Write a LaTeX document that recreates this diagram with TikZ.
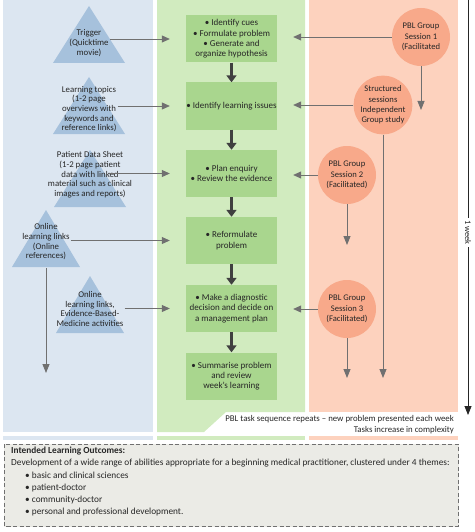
\documentclass[tikz,border=0pt]{standalone}
\usepackage{fontspec}
\setmainfont{Carlito}
\usetikzlibrary{arrows.meta}

\definecolor{bluepanel}{HTML}{DCE6F1}
\definecolor{tricol}{HTML}{A6C1DC}
\definecolor{greenpanel}{HTML}{D1EBBF}
\definecolor{taskgreen}{HTML}{A9D68E}
\definecolor{salmonpanel}{HTML}{FDD2BE}
\definecolor{sessioncol}{HTML}{F8A98A}
\definecolor{outcomefill}{HTML}{EBEBE6}
\definecolor{arrowgray}{HTML}{707070}
\definecolor{darkarrow}{HTML}{404040}
\definecolor{textcol}{HTML}{262626}

\tikzset{
	taskbox/.style={fill=taskgreen, minimum width=91pt, minimum height=47pt,
		align=center, inner sep=0pt, text=textcol, font=\fontsize{9}{10.3}\selectfont},
	session/.style={circle, fill=sessioncol, minimum size=58pt, inner sep=0pt,
		align=center, text=textcol, font=\fontsize{8.6}{10.2}\selectfont},
	resource/.style={align=center, inner sep=1pt, text=textcol, font=\fontsize{8.8}{9.7}\selectfont},
	inarrow/.style={draw=arrowgray, line width=0.8pt, -{Triangle[length=8pt,width=7pt]}},
	downarrow/.style={draw=arrowgray, line width=0.8pt, -{Triangle[length=9pt,width=7pt]}},
	steparrow/.style={draw=darkarrow, line width=3pt, -{Triangle[length=7pt,width=10pt]}},
}

\begin{document}
\begin{tikzpicture}[x=1pt, y=-1pt]
		\useasboundingbox (0,0) rectangle (474,532);

		% columns
		\fill[bluepanel] (3,0) rectangle (153,432);
		\fill[greenpanel] (157,0) -- (305,0) -- (305,412) -- (226,412) -- (204,432) -- (157,432) -- cycle;
		\fill[salmonpanel] (309,0) rectangle (458,412);
		\fill[bluepanel] (3,436) rectangle (153,440);
		\fill[greenpanel] (157,436) rectangle (305,440);
		\fill[salmonpanel] (309,436) rectangle (458,440);

		% resources
		\fill[tricol] (89,6) -- (53,63) -- (125,63) -- cycle;
		\fill[tricol] (89,77) -- (53,134) -- (125,134) -- cycle;
		\fill[tricol] (90,150) -- (54,207) -- (126,207) -- cycle;
		\fill[tricol] (46,210) -- (12,267) -- (80,267) -- cycle;
		\fill[tricol] (90,276) -- (56,333) -- (124,333) -- cycle;

		\node[resource] (trig) at (89,43) {Trigger\\(Quicktime\\movie)};
		\node[resource] (topics) at (89,109) {Learning topics\\(1-2 page\\overviews with\\keywords and\\reference links)};
		\node[resource] (sheet) at (90,175) {Patient Data Sheet\\(1-2 page patient\\data with linked\\material such as clinical\\images and reports)};
		\node[resource] (online) at (46,242) {Online\\learning links\\(Online\\references)};
		\node[resource] (ebm) at (90,309) {Online\\learning links,\\Evidence-Based-\\Medicine activities};

		% tasks
		\node[taskbox] (cues) at (231.5,39) {• Identify cues\\• Formulate problem\\• Generate and\\organize hypothesis};
		\node[taskbox] (issues) at (231.5,106) {• Identify learning issues};
		\node[taskbox] (enquiry) at (231.5,173.5) {• Plan enquiry\\• Review the evidence};
		\node[taskbox] (reform) at (231.5,240.5) {• Reformulate\\problem};
		\node[taskbox] (decide) at (231.5,308.5) {• Make a diagnostic\\decision and decide on\\a management plan};
		\node[taskbox] (review) at (231.5,376) {• Summarise problem\\and review\\week's learning};

		% sessions
		\node[session] (sess1) at (421,37) {PBL Group\\Session 1\\(Facilitated};
		\node[session] (study) at (383,105) {Structured\\sessions\\Independent\\Group study};
		\node[session] (sess2) at (347,175) {PBL Group\\Session 2\\(Facilitated)};
		\node[session] (sess3) at (347,309) {PBL Group\\Session 3\\(Facilitated)};

		\coordinate (onlineEnd) at (46,373);
		\coordinate (sess1End) at (421,110);
		\coordinate (studyEnd) at (383,378);
		\coordinate (sess2End) at (347,245);
		\coordinate (sess3End) at (347,378);

		% arrows
		\draw[steparrow] (cues) -- (issues);
		\draw[steparrow] (issues) -- (enquiry);
		\draw[steparrow] (enquiry) -- (reform);
		\draw[steparrow] (reform) -- (decide);
		\draw[steparrow] (decide) -- (review);

		\draw[inarrow, shorten >=16pt] (trig.east |- cues) -- (cues.west);
		\draw[inarrow, shorten >=16pt] (topics.east |- issues) -- (issues.west);
		\draw[inarrow, shorten >=16pt] ([xshift=-24pt]sheet.east |- enquiry) -- (enquiry.west);
		\draw[inarrow, shorten >=16pt] (online.east |- reform) -- (reform.west);
		\draw[inarrow, shorten >=16pt] (ebm.east |- decide) -- (decide.west);

		\draw[inarrow, shorten >=16pt] (sess1.west) -- (sess1.west -| cues.east);
		\draw[inarrow, shorten >=16pt] (study.west) -- (study.west -| issues.east);
		\draw[inarrow, shorten >=16pt] (sess2.west) -- (sess2.west -| enquiry.east);
		\draw[inarrow, shorten >=16pt] (sess3.west) -- (sess3.west -| decide.east);

		\draw[downarrow, shorten <=7pt] (online.south) -- (onlineEnd);
		\draw[downarrow] (sess1.south) -- (sess1End);
		\draw[downarrow] (study.south) -- (studyEnd);
		\draw[downarrow] (sess2.south) -- (sess2End);
		\draw[downarrow] (sess3.south) -- (sess3End);

		% one week
		\draw[line width=0.8pt, textcol, -{Triangle[length=9pt,width=7pt]}] (468,0) -- node[pos=0.56, fill=white, rotate=-90, inner sep=2pt, font=\fontsize{8.5}{9}\selectfont]{1 week} (468,415);

		\node[anchor=east, align=right, inner sep=0pt, text=textcol, font=\fontsize{8.8}{11}\selectfont] (repeat) at (454,425)
			{PBL task sequence repeats – new problem presented each week\\Tasks increase in complexity};

		% outcomes
		\draw[outcomefill, fill=outcomefill] (4,444) rectangle (458,526);
		\draw[arrowgray, line width=0.9pt, dash pattern=on 4pt off 2.5pt] (4,444) rectangle (458,526);
		\node[anchor=north west, align=left, inner sep=0pt, text=textcol, font=\fontsize{9.3}{12.2}\selectfont] (outcomes) at (11,447)
			{\textbf{Intended Learning Outcomes:}\\
			Development of a wide range of abilities appropriate for a beginning medical practitioner, clustered under 4 themes:\\
			\hspace*{14pt}• basic and clinical sciences\\
			\hspace*{14pt}• patient-doctor\\
			\hspace*{14pt}• community-doctor\\
			\hspace*{14pt}• personal and professional development.};
	\end{tikzpicture}
\end{document}
